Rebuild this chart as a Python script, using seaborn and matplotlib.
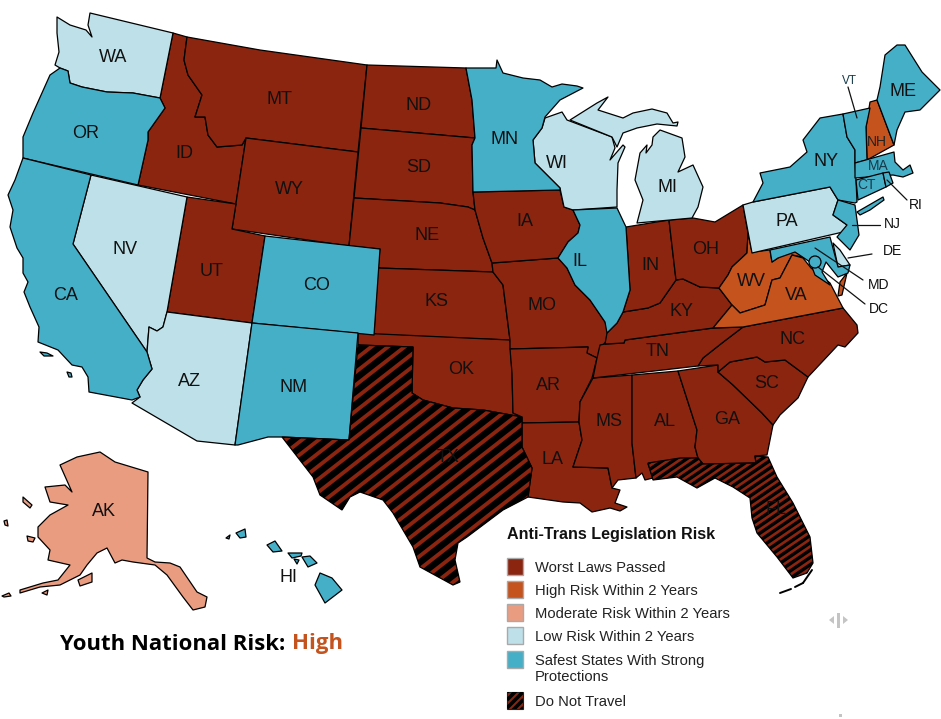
import matplotlib
matplotlib.use("Agg")
import matplotlib.pyplot as plt
import numpy as np
import seaborn as sns
from matplotlib.patches import Polygon, Circle, Rectangle

sns.set_theme(style="white")
plt.rcParams['font.family'] = ['Liberation Sans', 'DejaVu Sans']

risk_names = ["Worst Laws Passed", "High Risk Within 2 Years", "Moderate Risk Within 2 Years",
              "Low Risk Within 2 Years", "Safest States With Strong\nProtections", "Do Not Travel"]
risk_colors = sns.color_palette(["#8B2510", "#C4531D", "#E99C80", "#BEE0E8", "#46AFC8", "#8B2510"])

worst = ["ID","MT","WY","ND","SD","NE","KS","UT","OK","MO","IA","AR","LA","MS","AL","GA","SC","NC","TN","KY","IN","OH"]
high = ["WV","VA","VAE","NH"]
moderate = ["AK","AK1","AK2","AK3","AK4","AK5","AK6"]
low = ["WA","NV","AZ","WI","MI","MIU","PA","DE"]
safest = ["OR","CA","CAI1","CAI2","CO","NM","MN","IL","NY","LI","NJ","VT","ME","MA","CT","RI","MD",
          "HI1","HI2","HI3","HI4","HI5","HI6","HI7"]
no_travel = ["TX","FL"]

outlines = {
"WA":[(57,17),(70,25),(86,30),(92,37),(88,25),(90,13),(173,33),(160,98),(133,93),(107,92),(82,87),(70,83),(68,71),(60,68),(55,65),(59,52),(57,33)],
"OR":[(60,68),(68,71),(70,83),(82,87),(107,92),(133,93),(160,98),(165,108),(148,132),(148,140),(138,185),(23,158),(23,137),(33,113),(50,75)],
"CA":[(23,158),(91,175),(73,244),(147,352),(152,369),(143,380),(137,390),(140,397),(132,400),(89,392),(88,377),(82,367),(72,365),(58,350),(38,342),(39,327),(30,307),(24,292),(28,282),(23,273),(23,258),(17,248),(10,227),(13,210),(8,195),(15,180)],
"CAI1":[(40,352),(47,353),(53,356),(44,356)],
"CAI2":[(67,372),(71,373),(72,377),(69,377)],
"NV":[(91,175),(187,197),(167,312),(163,327),(157,331),(149,327),(147,352),(73,244)],
"ID":[(173,33),(187,37),(184,60),(188,75),(202,95),(195,117),(205,117),(208,135),(217,147),(242,145),(246,138),(236,204),(138,185),(148,140),(148,132),(165,108),(160,98)],
"MT":[(187,37),(260,50),(367,65),(358,152),(246,138),(242,145),(217,147),(208,135),(205,117),(195,117),(202,95),(188,75),(184,60)],
"WY":[(246,138),(358,152),(349,246),(232,229)],
"UT":[(187,197),(236,204),(232,229),(265,236),(252,323),(167,312)],
"AZ":[(167,312),(252,323),(235,445),(197,441),(132,403),(140,397),(137,390),(143,380),(152,369),(147,352),(149,327),(157,331),(163,327)],
"CO":[(265,236),(380,249),(374,335),(252,323)],
"NM":[(252,323),(358,333),(349,440),(282,437),(268,437),(238,445),(235,445)],
"ND":[(367,65),(466,68),(472,100),(475,138),(361,128)],
"SD":[(361,128),(475,138),(472,145),(473,192),(475,210),(468,207),(440,203),(354,198)],
"NE":[(354,198),(440,203),(468,207),(475,210),(483,238),(492,263),(493,272),(378,268),(380,249),(349,246)],
"KS":[(378,268),(493,272),(503,285),(510,340),(374,335)],
"OK":[(358,333),(510,340),(512,373),(513,413),(522,417),(483,410),(453,408),(423,400),(412,393),(413,347),(358,345)],
"TX":[(358,345),(413,347),(412,393),(423,400),(453,408),(483,410),(522,417),(522,447),(532,468),(528,497),(503,510),(467,537),(458,543),(455,560),(460,582),(453,585),(420,567),(413,547),(393,513),(383,500),(360,492),(350,497),(342,510),(320,495),(313,477),(282,437),(349,440)],
"MN":[(466,68),(496,68),(497,60),(503,73),(523,78),(540,80),(552,87),(562,84),(577,86),(583,88),(560,100),(545,117),(542,128),(533,140),(535,163),(560,188),(560,190),(473,192),(472,145),(475,138),(472,100)],
"IA":[(473,192),(560,190),(564,207),(573,210),(580,225),(578,233),(568,242),(558,258),(492,263),(483,238),(475,210)],
"MO":[(492,263),(558,258),(567,268),(575,285),(590,300),(605,322),(612,335),(603,345),(600,352),(597,358),(587,353),(588,347),(510,349),(510,340),(503,285),(493,272)],
"AR":[(510,349),(588,347),(587,353),(597,358),(592,378),(580,402),(579,422),(522,423),(522,417),(513,413),(512,373)],
"LA":[(522,423),(579,422),(582,440),(573,467),(608,468),(612,488),(620,490),(615,503),(627,507),(620,511),(610,508),(592,512),(580,503),(563,502),(528,497),(532,468),(522,447)],
"WI":[(545,118),(562,112),(567,120),(612,137),(615,148),(610,160),(623,145),(625,147),(618,163),(617,190),(617,207),(573,210),(564,207),(560,188),(535,163),(533,140),(542,128)],
"MIU":[(570,120),(597,103),(608,97),(598,110),(623,118),(633,113),(652,109),(667,113),(673,123),(678,122),(677,126),(657,124),(637,128),(623,133),(617,147),(612,137)],
"MI":[(653,137),(660,130),(682,138),(685,157),(678,172),(693,165),(703,187),(698,207),(692,218),(637,223),(643,200),(635,180),(640,153),(647,145),(646,153),(652,145)],
"IL":[(573,210),(617,208),(626,227),(630,290),(623,312),(617,323),(607,333),(605,322),(590,300),(575,285),(567,268),(558,258),(568,242),(578,233),(580,225)],
"IN":[(626,227),(669,220),(676,280),(660,303),(648,308),(623,312),(630,290)],
"OH":[(669,220),(693,218),(715,222),(743,205),(748,233),(747,253),(732,267),(728,275),(719,288),(700,287),(683,279),(676,280)],
"KY":[(676,280),(683,279),(700,287),(719,288),(732,305),(713,328),(625,340),(624,343),(605,344),(607,333),(617,323),(623,312),(648,308),(660,303)],
"TN":[(600,345),(605,344),(624,343),(625,340),(713,328),(743,327),(722,343),(703,358),(698,366),(593,378),(597,358)],
"MS":[(593,378),(632,375),(632,443),(636,478),(618,480),(612,488),(608,468),(573,467),(582,440),(579,422),(580,402)],
"AL":[(632,375),(678,371),(697,430),(695,447),(698,458),(648,464),(653,478),(645,480),(642,473),(636,478),(632,443)],
"GA":[(678,371),(718,365),(718,372),(733,385),(762,413),(773,425),(767,455),(755,456),(756,463),(703,464),(698,458),(695,447),(697,430)],
"FL":[(648,463),(680,458),(698,458),(703,464),(756,463),(755,456),(768,457),(777,477),(793,503),(810,537),(813,563),(807,573),(793,578),(777,557),(757,533),(752,518),(750,498),(733,487),(715,478),(697,488),(677,477),(653,480)],
"SC":[(718,372),(730,362),(757,357),(765,362),(785,360),(808,377),(798,398),(780,415),(773,425),(762,413),(733,385)],
"NC":[(743,327),(843,308),(857,325),(858,333),(845,347),(838,345),(808,377),(785,360),(765,362),(757,357),(730,362),(718,372),(718,365),(698,366),(703,358),(722,343)],
"VA":[(713,328),(732,305),(740,313),(765,305),(772,280),(780,278),(792,255),(803,258),(811,268),(830,283),(843,308),(743,327)],
"WV":[(748,233),(752,252),(770,250),(772,262),(793,248),(803,257),(792,255),(780,278),(772,280),(765,305),(740,313),(732,305),(719,288),(728,275),(732,267),(747,253)],
"VAE":[(847,273),(842,295),(838,296),(840,282)],
"PA":[(753,202),(743,205),(752,253),(843,232),(847,225),(833,215),(838,200),(830,187)],
"NY":[(843,114),(847,137),(855,150),(855,163),(856,180),(857,202),(855,203),(838,200),(830,187),(753,202),(763,183),(760,173),(790,167),(807,152),(803,140),(820,118)],
"LI":[(857,212),(883,197),(884,200),(870,210),(860,215)],
"NJ":[(838,200),(855,205),(857,220),(859,235),(850,250),(837,237),(847,225),(833,215)],
"VT":[(843,114),(870,108),(866,127),(867,160),(855,163),(855,150),(847,137)],
"NH":[(870,102),(877,100),(894,145),(867,160),(866,127)],
"ME":[(877,100),(880,87),(885,55),(897,45),(905,45),(922,72),(940,90),(920,110),(905,112),(897,130),(894,145)],
"MA":[(855,163),(894,152),(895,162),(903,170),(910,165),(913,173),(903,177),(893,175),(855,178)],
"CT":[(856,180),(883,173),(886,187),(858,200)],
"RI":[(883,173),(889,172),(893,183),(886,187)],
"MD":[(770,250),(830,237),(838,267),(850,265),(848,273),(838,277),(826,262),(822,272),(830,285),(815,275),(810,262),(795,252),(778,258),(772,262)],
"DE":[(833,243),(840,250),(850,265),(838,267)],
"AK":[(60,465),(77,457),(100,452),(115,462),(148,472),(147,558),(155,562),(170,563),(180,567),(197,592),(207,597),(205,607),(193,610),(183,597),(167,575),(155,565),(133,562),(122,560),(115,563),(107,548),(97,553),(87,565),(80,575),(60,585),(40,587),(20,593),(20,590),(43,583),(58,580),(70,565),(48,560),(50,550),(38,537),(38,527),(50,515),(68,505),(50,502),(45,487),(65,485),(72,492)],
"AK1":[(23,497),(32,505),(30,508),(23,502)],
"AK2":[(27,536),(35,538),(33,542),(28,541)],
"AK3":[(78,580),(92,573),(92,582),(80,586)],
"AK4":[(2,596),(9,593),(11,596),(4,597)],
"AK5":[(4,521),(7,520),(8,526),(5,525)],
"AK6":[(42,593),(48,590),(47,595)],
"HI1":[(320,573),(332,578),(342,590),(325,603),(315,585)],
"HI2":[(302,557),(310,556),(317,563),(308,567)],
"HI3":[(267,545),(275,541),(282,551),(273,552)],
"HI4":[(236,533),(245,529),(246,537),(240,538)],
"HI5":[(226,538),(230,535),(229,539)],
"HI6":[(288,553),(302,553),(301,556),(292,558)],
"HI7":[(294,559),(299,560),(297,564)],
}

labels = {"WA":(113,58),"OR":(86,133),"CA":(66,296),"NV":(125,249),"ID":(184,153),"MT":(279,100),
"WY":(289,190),"UT":(212,271),"AZ":(190,382),"CO":(317,285),"NM":(294,387),"ND":(419,105),"SD":(419,168),
"NE":(427,235),"KS":(437,301),"OK":(461,369),"MN":(505,140),"IA":(525,222),"MO":(542,305),"AR":(548,386),
"LA":(553,460),"WI":(557,164),"MI":(668,187),"IL":(580,262),"IN":(650,266),"OH":(706,249),"KY":(682,312),
"TN":(658,352),"MS":(609,422),"AL":(665,421),"GA":(727,420),"SC":(767,383),"NC":(793,339),"VA":(796,296),
"WV":(751,281),"PA":(787,221),"NY":(826,161),"ME":(903,91),"AK":(104,511),"HI":(289,578)}
small_labels = {"VT":(849,81),"NH":(877,142),"MA":(878,166),"CT":(867,185)}
side_labels = {"RI":(916,205),"NJ":(892,224),"DE":(893,251),"MD":(879,285),"DC":(879,309)}
leaders = [((848,87),(857,118)),((887,180),(907,200)),((852,225),(880,225)),((848,258),(872,254)),
           ((815,248),(863,280)),((818,267),(865,304))]
keys = [((780,593),(791,589)),((795,587),(803,583)),((803,583),(812,570))]

groups = [(worst,0),(high,1),(moderate,2),(low,3),(safest,4)]

fig = plt.figure(figsize=(9.41,7.19), dpi=100, facecolor="white")
ax = fig.add_axes([0,0,1,1])
ax.set_xlim(0,941); ax.set_ylim(719,0); ax.axis("off")

def striped(patch, x0, x1, y0, y1, slope, period, lw):
    """Black diagonal stripes clipped to a patch; y falls as x rises (screen coordinates)."""
    ax.add_patch(patch)
    start = y0 + slope*x0
    stop = y1 + slope*x1
    for c in np.arange(start, stop, period):
        line, = ax.plot([x0,x1],[c-slope*x0,c-slope*x1],color="black",lw=lw,solid_capstyle="butt")
        line.set_clip_path(patch)

for members, idx in groups:
    for code in members:
        ax.add_patch(Polygon(outlines[code], closed=True, facecolor=risk_colors[idx], edgecolor="black", lw=0.9, joinstyle="round"))

stripe_style = {"TX":(0.78,13.0,4.6),"FL":(0.68,7.3,2.4)}
for code in no_travel:
    pts = np.array(outlines[code])
    slope,period,lw = stripe_style[code]
    patch = Polygon(outlines[code], closed=True, facecolor=risk_colors[5], edgecolor="none")
    striped(patch, pts[:,0].min(), pts[:,0].max(), pts[:,1].min(), pts[:,1].max(), slope, period, lw)
    ax.add_patch(Polygon(outlines[code], closed=True, facecolor="none", edgecolor="black", lw=0.9))
ax.add_patch(Circle((815,262), 6, facecolor=risk_colors[4], edgecolor="black", lw=0.9))
for (a,b) in keys:
    ax.plot([a[0],b[0]],[a[1],b[1]],color="black",lw=1.4)

for code,(x,y) in labels.items():
    ax.text(x,y,code,fontsize=13,ha="center",va="center",color="#111111")
ax.text(448,458,"TX",fontsize=13,ha="center",va="center",color="#111111")
ax.text(776,510,"FL",fontsize=13,ha="center",va="center",color="#111111")
for code,(x,y) in small_labels.items():
    ax.text(x,y,code,fontsize=8.5 if code=="VT" else 10,ha="center",va="center",color="#163a4a" if code!="NH" else "#222222")
for code,(x,y) in side_labels.items():
    ax.text(x,y,code,fontsize=10,ha="center",va="center",color="#111111")
for (a,b) in leaders:
    ax.plot([a[0],b[0]],[a[1],b[1]],color="#111111",lw=0.9)

ax.text(507,534,"Anti-Trans Legislation Risk",fontsize=11.65,fontweight="bold",va="center",color="#111111")
swatch_y = [558,581,604,627,651,692]
text_y = [568,591,614,637,669,702]
for i,(name,sy,ty) in enumerate(zip(risk_names,swatch_y,text_y)):
    if i==5:
        sw = Rectangle((507,sy),16.5,16.5,facecolor=risk_colors[i],edgecolor="none")
        striped(sw,507,523.5,sy,sy+16.5,1.0,8.0,2.6)
        ax.add_patch(Rectangle((507,sy),16.5,16.5,facecolor="none",edgecolor="#222222",lw=0.8))
    else:
        ax.add_patch(Rectangle((507,sy),16.5,16.5,facecolor=risk_colors[i],edgecolor="#a9a9a9",lw=1))
    ax.text(535,ty,name,fontsize=10.6,va="center",color="#222222",linespacing=1.15)

ax.text(60,644,"Youth National Risk:",fontsize=15.9,fontweight="bold",family=["Open Sans","DejaVu Sans"],va="center",color="black")
ax.text(292,644,"High",fontsize=15.9,fontweight="bold",family=["Open Sans","DejaVu Sans"],va="center",color=risk_colors[1])

grey="#c4c4c4"
ax.add_patch(Polygon([(829,620),(834,616),(834,624)],facecolor=grey,edgecolor="none"))
ax.add_patch(Rectangle((837,613),3.5,15,facecolor=grey,edgecolor="none"))
ax.add_patch(Polygon([(848,620),(843,616),(843,624)],facecolor=grey,edgecolor="none"))
ax.add_patch(Rectangle((839,714),3,3,facecolor=grey,edgecolor="none"))

sns.despine(ax=ax,left=True,bottom=True)
fig.savefig("out.png",dpi=100,facecolor="white")
